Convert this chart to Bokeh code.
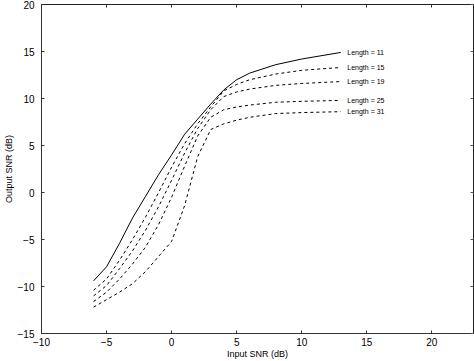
from bokeh.plotting import figure
from bokeh.models import Range1d, LinearAxis, FixedTicker, ColumnDataSource
from bokeh.core.properties import value
from bokeh.embed import file_html
from bokeh.resources import INLINE

# Input SNR (dB)
x_snr = [-6, -5, -4, -3, -2, -1, 0, 1, 2, 3, 4, 5, 6, 8, 10, 13]

# Output SNR (dB) per filter length
len11 = [-9.4, -7.9, -5.4, -2.7, -0.4, 1.9, 4.0, 6.2, 7.8, 9.4, 10.9, 12.0, 12.7, 13.6, 14.2, 14.9]
len15 = [-10.4, -9.2, -7.2, -5.0, -2.6, 0.0, 2.7, 5.2, 7.3, 9.1, 10.8, 11.5, 12.0, 12.6, 13.0, 13.3]
len19 = [-11.0, -9.9, -8.1, -6.2, -4.0, -1.5, 1.3, 4.2, 6.8, 8.8, 10.2, 10.7, 11.0, 11.4, 11.6, 11.8]
len25 = [-11.6, -10.6, -9.2, -7.6, -5.8, -3.4, -0.5, 2.8, 6.0, 8.0, 8.8, 9.1, 9.3, 9.6, 9.7, 9.8]
len31 = [-12.2, -11.4, -10.6, -9.7, -8.4, -6.8, -5.2, -1.4, 3.8, 6.7, 7.3, 7.7, 8.0, 8.4, 8.5, 8.6]

series = [len11, len15, len19, len25, len31]
labels = ["Length = 11", "Length = 15", "Length = 19", "Length = 25", "Length = 31"]
dashes = ["solid", "3 3", "3 3", "3 3", "3 3"]

x_ticks = [-10, -5, 0, 5, 10, 15, 20]
y_ticks = [-15, -10, -5, 0, 5, 10, 15, 20]

FONT = "Liberation Sans"

p = figure(width=474, height=361,
           x_range=Range1d(-10, 23.2), y_range=Range1d(-15, 20),
           output_backend="svg", toolbar_location=None,
           min_border_left=38, min_border_right=1,
           min_border_top=4, min_border_bottom=28)
p.grid.visible = False
p.outline_line_color = "#222222"
p.background_fill_color = "white"
p.border_fill_color = "white"

for ax in (p.xaxis[0], p.yaxis[0]):
    ax.major_tick_in = 3
    ax.major_tick_out = 0
    ax.minor_tick_line_color = None
    ax.axis_line_color = "#333333"
    ax.major_tick_line_color = "#333333"
    ax.major_label_text_font = FONT
    ax.major_label_text_font_size = "10px"
    ax.major_label_text_color = "black"
    ax.axis_label_text_font = FONT
    ax.axis_label_text_font_size = "9px"
    ax.axis_label_text_font_style = "normal"
    ax.axis_label_text_color = "black"

p.xaxis[0].ticker = FixedTicker(ticks=x_ticks)
p.yaxis[0].ticker = FixedTicker(ticks=y_ticks)
p.xaxis[0].axis_label = "Input SNR (dB)"
p.yaxis[0].axis_label = "Output SNR (dB)"
p.xaxis[0].major_label_standoff = 4
p.xaxis[0].axis_label_standoff = 0
p.yaxis[0].major_label_standoff = 7
p.yaxis[0].axis_label_standoff = 1

top = LinearAxis(ticker=FixedTicker(ticks=x_ticks), major_tick_in=3, major_tick_out=0,
                 minor_tick_line_color=None,
                 major_label_overrides={t: "" for t in x_ticks},
                 major_label_standoff=0, axis_line_color=None, major_tick_line_color="#333333")
right = LinearAxis(ticker=FixedTicker(ticks=y_ticks), major_tick_in=3, major_tick_out=0,
                   minor_tick_line_color=None,
                   major_label_overrides={t: "" for t in y_ticks},
                   major_label_standoff=0, axis_line_color=None, major_tick_line_color="#555555")
p.add_layout(top, "above")
p.add_layout(right, "right")

for ys, lab, dash in zip(series, labels, dashes):
    p.line(x_snr, ys, line_color="black", line_width=1, line_dash=dash)

src = ColumnDataSource(dict(
    x=[x_snr[-1] + 0.5] * len(series),
    y=[s[-1] for s in series],
    t=labels,
))
p.text(x="x", y="y", text="t", source=src, text_font=value(FONT),
       text_font_size="7px", text_baseline="middle", text_align="left",
       text_color="black")

open("out.html", "w").write(file_html(p, INLINE))
